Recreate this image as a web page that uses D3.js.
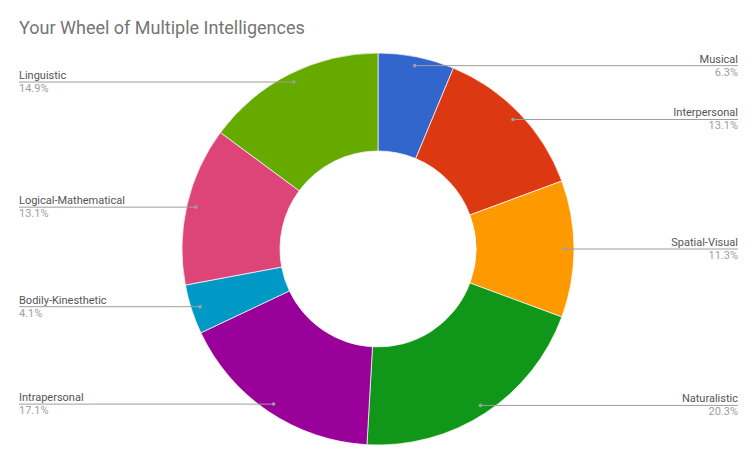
<!DOCTYPE html>
<html>
<head>
<meta charset="utf-8">
<script src="https://cdn.jsdelivr.net/npm/d3@7"></script>
<style>
  body { margin: 0; background: #fff; }
  svg { display: block; font-family: Roboto, "Noto Sans", sans-serif; }
</style>
</head>
<body>
<svg width="756" height="463"></svg>
<script>
const categories = ["Musical", "Interpersonal", "Spatial-Visual", "Naturalistic",
  "Intrapersonal", "Bodily-Kinesthetic", "Logical-Mathematical", "Linguistic"];
const values = [6.3, 13.1, 11.3, 20.3, 17.1, 4.1, 13.1, 14.9];
const palette = ["#3366cc", "#dc3912", "#ff9900", "#109618",
  "#990099", "#0099c6", "#dd4477", "#66aa00"];

const width = 756, height = 463;
const cx = 378, cy = 249;
const outerR = 196, innerR = 98, dotR = 187;
const leftX = 19, rightX = 738;

const svg = d3.select("svg");

svg.append("text")
    .attr("x", 19)
    .attr("y", 34)
    .attr("font-size", 18)
    .attr("fill", "#757575")
    .text("Your Wheel of Multiple Intelligences");

const pie = d3.pie().sort(null).value(d => d);
const arcs = pie(values);

const arc = d3.arc().innerRadius(innerR).outerRadius(outerR);
const color = d3.scaleOrdinal().domain(categories).range(palette);

const g = svg.append("g").attr("transform", `translate(${cx},${cy})`);

g.selectAll("path")
    .data(arcs)
    .enter().append("path")
        .attr("d", arc)
        .attr("fill", (d, i) => color(categories[i]))
        .attr("stroke", "#fff")
        .attr("stroke-width", 0.7);

// label lines: horizontal from slice dot out to the label edge
const mid = (d) => (d.startAngle + d.endAngle) / 2;
const dotX = (d) => cx + dotR * Math.sin(mid(d));
const dotY = (d) => cy - dotR * Math.cos(mid(d));
const onRight = (d) => mid(d) < Math.PI;

const labels = svg.append("g")
    .selectAll("g")
    .data(arcs)
    .enter().append("g");

labels.append("line")
    .attr("x1", dotX)
    .attr("x2", (d) => onRight(d) ? rightX : leftX)
    .attr("y1", dotY)
    .attr("y2", dotY)
    .attr("stroke", "#9e9e9e")
    .attr("stroke-width", 1);

labels.append("circle")
    .attr("cx", dotX)
    .attr("cy", dotY)
    .attr("r", 1.8)
    .attr("fill", "#9e9e9e");

labels.append("text")
    .attr("x", (d) => onRight(d) ? rightX : leftX)
    .attr("y", (d) => dotY(d) - 3)
    .attr("text-anchor", (d) => onRight(d) ? "end" : "start")
    .attr("font-size", 11)
    .attr("fill", "#555")
    .text((d, i) => categories[i]);

labels.append("text")
    .attr("x", (d) => onRight(d) ? rightX : leftX)
    .attr("y", (d) => dotY(d) + 10)
    .attr("text-anchor", (d) => onRight(d) ? "end" : "start")
    .attr("font-size", 11)
    .attr("fill", "#9e9e9e")
    .text((d) => d3.format(".1f")(d.data) + "%");
</script>
</body>
</html>
